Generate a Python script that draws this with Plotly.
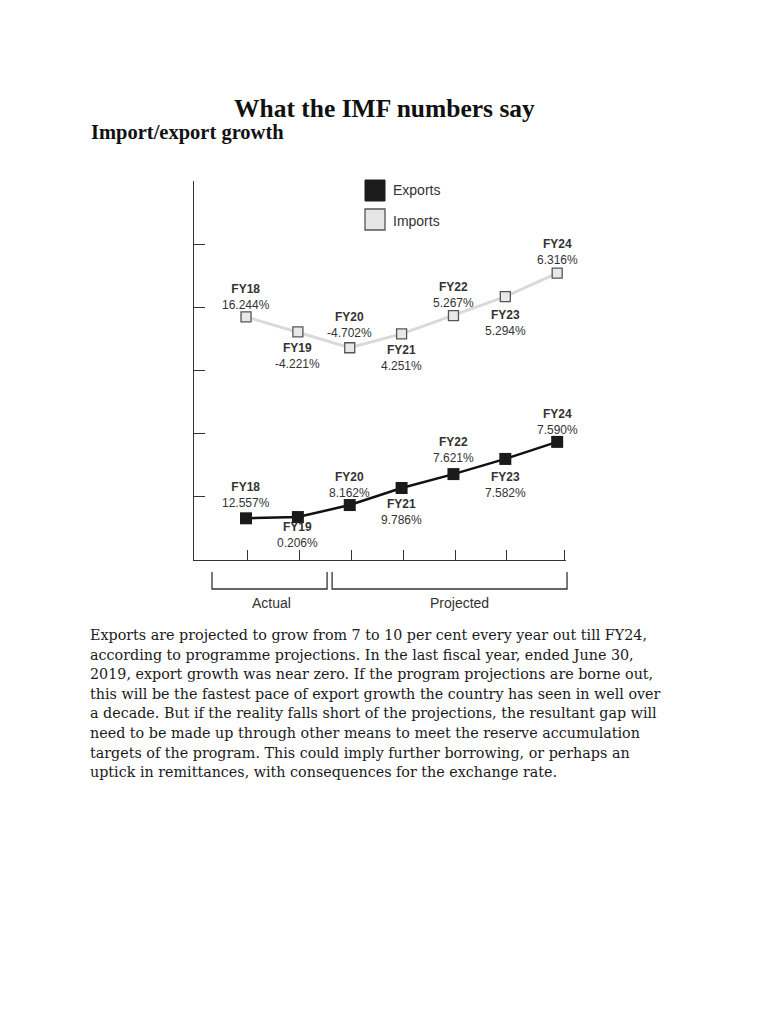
import plotly.graph_objects as go

# ---------------- data ----------------
categories = ["FY18", "FY19", "FY20", "FY21", "FY22", "FY23", "FY24"]
# growth figures printed on the chart (%)
export_labels = [12.557, 0.206, 8.162, 9.786, 7.621, 7.582, 7.590]
import_labels = [16.244, -4.221, -4.702, 4.251, 5.267, 5.294, 6.316]
# vertical position of each marker as drawn in the (schematic) chart, in axis units
export_plot = [0.66, 0.68, 0.87, 1.14, 1.36, 1.60, 1.87]
import_plot = [3.85, 3.61, 3.36, 3.58, 3.87, 4.17, 4.54]
# label placement relative to marker: +1 above, -1 below
export_side = [1, -1, 1, -1, 1, -1, 1]
import_side = [1, -1, 1, -1, 1, -1, 1]
groups = ["Actual", "Projected"]
group_members = [["FY18", "FY19"], ["FY20", "FY21", "FY22", "FY23", "FY24"]]

title = "What the IMF numbers say"
subtitle = "Import/export growth"
paragraph = [
    "Exports are projected to grow from 7 to 10 per cent every year out till FY24,",
    "according to programme projections. In the last fiscal year, ended June 30,",
    "2019, export growth was near zero. If the program projections are borne out,",
    "this will be the fastest pace of export growth the country has seen in well over",
    "a decade. But if the reality falls short of the projections, the resultant gap will",
    "need to be made up through other means to meet the reserve accumulation",
    "targets of the program. This could imply further borrowing, or perhaps an",
    "uptick in remittances, with consequences for the exchange rate.",
]

# ---------------- layout geometry ----------------
OFF = 8                      # default page body margin
W, H = 768 - 2 * OFF, 1024 - 2 * OFF
L, R, T, B = 194, 566, 181, 560  # plot area in page pixels
XMIN, XMAX = -1.003, 6.17
YMIN, YMAX = 0, 6

def px(p):
    return (p - L) / (R - L)

def py(p):
    return (B - p) / (B - T)

def data_to_paper_x(v):
    return (v - XMIN) / (XMAX - XMIN)

idx = list(range(len(categories)))
SANS = "Liberation Sans, Arial, sans-serif"
SERIF = "DejaVu Serif, Georgia, serif"
TIMES = "Liberation Serif, Times New Roman, serif"
TXT = "#333333"

fig = go.Figure()

fig.add_trace(go.Scatter(
    x=idx, y=import_plot, mode="lines+markers", name="Imports",
    line=dict(color="#d9d9d9", width=3),
    marker=dict(symbol="square", size=10, color="#e8e8e8",
                line=dict(color="#555555", width=1.3)),
    showlegend=False, hoverinfo="skip",
))
fig.add_trace(go.Scatter(
    x=idx, y=export_plot, mode="lines+markers", name="Exports",
    line=dict(color="#111111", width=2.5),
    marker=dict(symbol="square", size=12, color="#1a1a1a"),
    showlegend=False, hoverinfo="skip",
))

annotations = []
shapes = []

# data labels
def add_labels(pos, vals, sides, up, down):
    for i, (c, y, v, s) in enumerate(zip(categories, pos, vals, sides)):
        annotations.append(dict(
            x=i, y=y, xref="x", yref="y", showarrow=False,
            text=f"<b>{c}</b><br>{v:.3f}%",
            font=dict(family=SANS, size=12, color=TXT),
            xanchor="center", yanchor="middle",
            yshift=(up[i] if s > 0 else -down[i]),
        ))

imp_up = [20, 0, 23, 0, 21, 0, 21]
imp_dn = [0, 24, 0, 24, 0, 26, 0]
exp_up = [23, 0, 20, 0, 24, 0, 20]
exp_dn = [0, 18, 0, 24, 0, 26, 0]
add_labels(import_plot, import_labels, import_side, imp_up, imp_dn)
add_labels(export_plot, export_labels, export_side, exp_up, exp_dn)

# legend (drawn)
shapes.append(dict(type="rect", xref="paper", yref="paper",
                   x0=px(365), x1=px(385), y0=py(201), y1=py(180),
                   fillcolor="#1c1c1c", line=dict(color="#1c1c1c", width=1)))
shapes.append(dict(type="rect", xref="paper", yref="paper",
                   x0=px(365), x1=px(385), y0=py(230), y1=py(209),
                   fillcolor="#e6e6e6", line=dict(color="#555555", width=1.3)))
for name, yc in (("Exports", 190), ("Imports", 221)):
    annotations.append(dict(x=px(391), y=py(yc), xref="paper", yref="paper",
                            text=name, showarrow=False, xanchor="left", yanchor="middle",
                            font=dict(family=SANS, size=14, color=TXT)))

# group brackets
for g, members in zip(groups, group_members):
    ii = [categories.index(m) for m in members]
    if g == "Actual":
        x0d, x1d = min(ii) - 0.656, max(ii) + 0.563
    else:
        x0d, x1d = min(ii) - 0.34, XMAX + 0.02
    x0, x1 = data_to_paper_x(x0d), data_to_paper_x(x1d)
    ytop, ybot = py(572), py(589)
    shapes.append(dict(type="path", xref="paper", yref="paper",
                       path=f"M {x0},{ytop} L {x0},{ybot} L {x1},{ybot} L {x1},{ytop}",
                       line=dict(color="#333333", width=1.3)))
    annotations.append(dict(x=data_to_paper_x(sum(ii) / len(ii) + (0 if g == "Actual" else 0.12)),
                            y=py(603), xref="paper", yref="paper", text=g,
                            showarrow=False, xanchor="center", yanchor="middle",
                            font=dict(family=SANS, size=14, color=TXT)))

# title & subtitle
annotations.append(dict(x=px(384), y=py(108), xref="paper", yref="paper",
                        text=f"<b>{title}</b>", showarrow=False,
                        xanchor="center", yanchor="middle",
                        font=dict(family=TIMES, size=25.5, color="#111111")))
annotations.append(dict(x=px(89), y=py(132), xref="paper", yref="paper",
                        text=f"<b>{subtitle}</b>", showarrow=False,
                        xanchor="left", yanchor="middle",
                        font=dict(family=TIMES, size=20.5, color="#111111")))

# paragraph
for k, line in enumerate(paragraph):
    annotations.append(dict(x=px(88), y=py(635 + 19.6 * k), xref="paper", yref="paper",
                            text=line, showarrow=False, xanchor="left", yanchor="middle",
                            font=dict(family=SERIF, size=14.3, color="#1a1a1a")))

xticks = [i + 0.03 for i in idx[:-1]] + [XMAX - 0.03]
fig.update_layout(
    width=W, height=H,
    margin=dict(l=L - OFF, r=(W + OFF) - R, t=T - OFF, b=(H + OFF) - B, pad=0),
    paper_bgcolor="white", plot_bgcolor="white",
    showlegend=False,
    xaxis=dict(range=[XMIN, XMAX], showgrid=False, zeroline=False,
               showline=True, linecolor="#333333", linewidth=1.3,
               ticks="inside", ticklen=10, tickwidth=1.3, tickcolor="#333333",
               tickvals=xticks, showticklabels=False, fixedrange=True),
    yaxis=dict(range=[YMIN, YMAX], showgrid=False, zeroline=False,
               showline=True, linecolor="#333333", linewidth=1.3,
               ticks="inside", ticklen=11, tickwidth=1.3, tickcolor="#333333",
               tickvals=[1, 2, 3, 4, 5, 6], showticklabels=False, fixedrange=True),
    annotations=annotations, shapes=shapes,
)

fig.write_html("out.html")
